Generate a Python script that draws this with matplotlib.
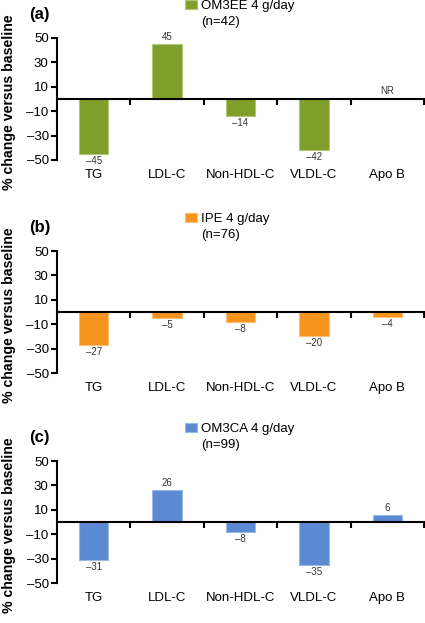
import matplotlib
matplotlib.use("Agg")
import matplotlib.pyplot as plt

plt.rcParams['font.family'] = ['Liberation Sans', 'DejaVu Sans']

categories = ['TG', 'LDL-C', 'Non-HDL-C', 'VLDL-C', 'Apo B']
panel_tags = ['(a)', '(b)', '(c)']
series_names = ['OM3EE 4 g/day', 'IPE 4 g/day', 'OM3CA 4 g/day']
sample_sizes = ['(n=42)', '(n=76)', '(n=99)']
om3ee = [-45, 45, -14, -42, None]   # None -> not reported
ipe = [-27, -5, -8, -20, -4]
om3ca = [-31, 26, -8, -35, 6]
y_ticks = [-50, -30, -10, 10, 30, 50]

fills = ['#7f9f2a', '#f7941d', '#5a8bd2']
edges = ['#b2c875', '#fbbf7a', '#9bb8e6']


def fmt(v):
    return ('\u2013%d' % -v) if v < 0 else '%d' % v


fig = plt.figure(figsize=(4.25, 6.23), dpi=100)
W, H = 425.0, 623.0
left = 57 / W
width = 367 / W
axes_top_px = [38, 251, 461]
height = 122 / H

for k, vals in enumerate([om3ee, ipe, om3ca]):
    top = axes_top_px[k]
    ax = fig.add_axes([left, 1 - (top + 122) / H, width, height])
    xs = list(range(len(categories)))
    heights = [0 if v is None else v for v in vals]
    bars = ax.bar(xs, heights, width=0.4, color=fills[k], edgecolor=edges[k],
                  linewidth=0.8, label=series_names[k], zorder=2)
    ax.set_xlim(-0.5, 4.5)
    ax.set_ylim(-50, 50)

    ax.spines['top'].set_visible(False)
    ax.spines['right'].set_visible(False)
    ax.spines['bottom'].set_position(('data', 0))
    ax.spines['bottom'].set_linewidth(1.5)
    ax.spines['bottom'].set_zorder(3)
    ax.spines['left'].set_linewidth(1.5)

    ax.set_xticks([0.5, 1.5, 2.5, 3.5, 4.5])
    ax.set_xticklabels([])
    ax.tick_params(axis='x', direction='out', length=4, width=1.5)
    ax.set_yticks(y_ticks)
    ax.set_yticklabels([fmt(t) for t in y_ticks], fontsize=9.5)
    ax.tick_params(axis='y', direction='out', length=4, width=1.5, pad=2)

    for i, lbl in enumerate(categories):
        ax.annotate(lbl, xy=(i, -50), xytext=(0, -10.5), textcoords='offset points',
                    ha='center', va='center', fontsize=9.5)

    for i, v in enumerate(vals):
        if v is None:
            ax.annotate('NR', xy=(i, 0), xytext=(0, 2), textcoords='offset points',
                        ha='center', va='bottom', fontsize=7, color='#333333')
        elif v >= 0:
            ax.annotate(fmt(v), xy=(i, v), xytext=(0, 1.5), textcoords='offset points',
                        ha='center', va='bottom', fontsize=7, color='#333333')
        else:
            ax.annotate(fmt(v), xy=(i, v), xytext=(0, -1.5), textcoords='offset points',
                        ha='center', va='top', fontsize=7, color='#333333')

    ax.text(-0.076, 1.195, panel_tags[k], transform=ax.transAxes, fontsize=12,
            fontweight='bold', ha='left', va='center')

    ax.legend(handles=[bars], loc='center left', bbox_to_anchor=(0.35, 1.262),
              frameon=False, fontsize=9.5, borderpad=0, borderaxespad=0,
              handlelength=0.85, handleheight=0.75, handletextpad=0.35)
    ax.text(0.392, 1.131, sample_sizes[k], transform=ax.transAxes, fontsize=9.5,
            ha='left', va='center')

    ax.set_ylabel('% change versus baseline', fontsize=10.2, fontweight='bold')
    ax.yaxis.set_label_coords(-0.112, 0.47)

fig.savefig('out.png', dpi=100)
